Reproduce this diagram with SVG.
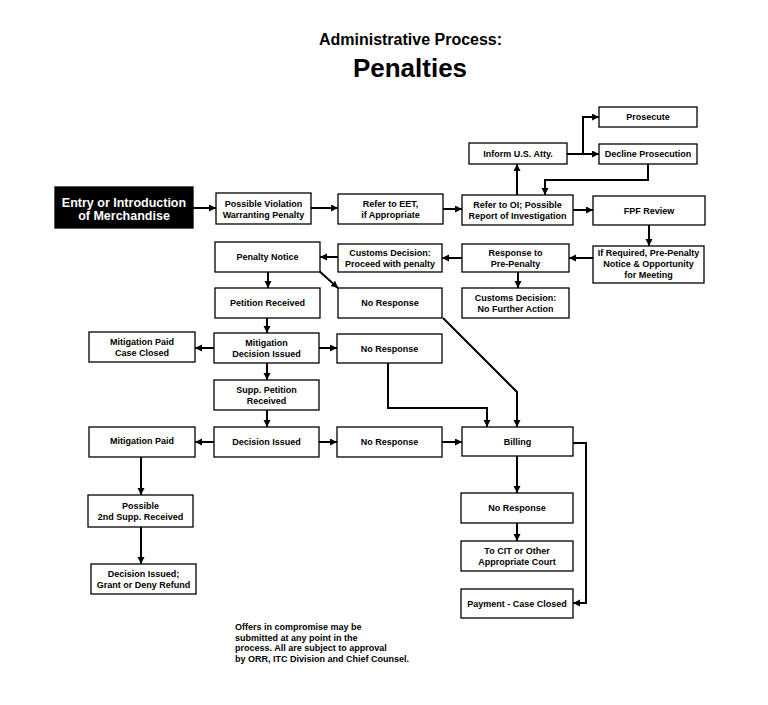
<svg xmlns="http://www.w3.org/2000/svg" width="768" height="705" viewBox="0 0 768 705">
<defs>
<style>
.box{fill:#fff;stroke:#000;stroke-width:1.3}
.dark{fill:#000;stroke:#000;stroke-width:1.3}
text{font-family:"Liberation Sans",Arial,Helvetica,sans-serif;font-weight:bold;fill:#000}
.t{font-size:9px;text-anchor:middle}
.w{font-size:12.5px;text-anchor:middle;fill:#fff}
.note{font-size:9px}
.c{fill:none;stroke:#000;stroke-width:2;marker-end:url(#ah)}
</style>
<marker id="ah" markerWidth="8" markerHeight="8" refX="7" refY="3.5" orient="auto" markerUnits="userSpaceOnUse"><path d="M0,0 L7,3.5 L0,7 z" fill="#000"/></marker>
</defs>
<rect width="768" height="705" fill="#fff"/>
<g id="title">
<text x="410.5" y="45" style="font-size:16px;text-anchor:middle">Administrative Process:</text>
<text x="410" y="77" style="font-size:26px;text-anchor:middle">Penalties</text>
</g>
<g id="connectors">
<path class="c" d="M193,208 H216"/>
<path class="c" d="M311,208 H338"/>
<path class="c" d="M443,209 H462"/>
<path class="c" d="M573,210 H593"/>
<path class="c" d="M517,195 V164"/>
<path class="c" d="M567,154 H599"/>
<path class="c" d="M583,154 V117 H599"/>
<path class="c" d="M648,164 V180 H545 V195"/>
<path class="c" d="M649,225 V246"/>
<path class="c" d="M593,258 H569"/>
<path class="c" d="M462,258 H442"/>
<path class="c" d="M338,257 H320"/>
<path class="c" d="M518,272 V288"/>
<path class="c" d="M268,272 V288"/>
<path class="c" d="M318,270 L338,288"/>
<path class="c" d="M443,318 L517,392 V427"/>
<path class="c" d="M267,318 V333"/>
<path class="c" d="M214,348 H195"/>
<path class="c" d="M319,348 H337"/>
<path class="c" d="M267,363 V380"/>
<path class="c" d="M388,363 V408 H487 V427"/>
<path class="c" d="M267,410 V427"/>
<path class="c" d="M214,442 H195"/>
<path class="c" d="M319,442 H337"/>
<path class="c" d="M442,442 H462"/>
<path class="c" d="M573,443 H586 V603 H573"/>
<path class="c" d="M517,456 V493"/>
<path class="c" d="M517,523 V541"/>
<path class="c" d="M141,457 V495"/>
<path class="c" d="M141,527 V564"/>
</g>
<g id="entry"><rect class="dark" x="55" y="187" width="138" height="41"/><text class="w" x="124" y="207">Entry or Introduction</text><text class="w" x="124" y="219.5">of Merchandise</text></g>
<g id="possible"><rect class="box" x="216" y="193" width="95" height="31"/><text class="t" x="263.5" y="206.5">Possible Violation</text><text class="t" x="263.5" y="217.5">Warranting Penalty</text></g>
<g id="eet"><rect class="box" x="338" y="194" width="105" height="30"/><text class="t" x="390.5" y="206.5">Refer to EET,</text><text class="t" x="390.5" y="217.5">if Appropriate</text></g>
<g id="oi"><rect class="box" x="462" y="195" width="111" height="30"/><text class="t" x="517.5" y="207.5">Refer to OI; Possible</text><text class="t" x="517.5" y="218.5">Report of Investigation</text></g>
<g id="fpf"><rect class="box" x="593" y="196" width="112" height="29"/><text class="t" x="649" y="213.5">FPF Review</text></g>
<g id="inform"><rect class="box" x="469" y="143" width="98" height="21"/><text class="t" x="518" y="156.5">Inform U.S. Atty.</text></g>
<g id="prosecute"><rect class="box" x="599" y="107" width="98" height="20"/><text class="t" x="648" y="120">Prosecute</text></g>
<g id="decline"><rect class="box" x="599" y="144" width="98" height="20"/><text class="t" x="648" y="157">Decline Prosecution</text></g>
<g id="ifreq"><rect class="box" x="593" y="246" width="111" height="37"/><text class="t" x="648.5" y="255.5">If Required, Pre-Penalty</text><text class="t" x="648.5" y="266.5">Notice &amp; Opportunity</text><text class="t" x="648.5" y="277.5">for Meeting</text></g>
<g id="response"><rect class="box" x="462" y="244" width="107" height="28"/><text class="t" x="515.5" y="255.5">Response to</text><text class="t" x="515.5" y="266.5">Pre-Penalty</text></g>
<g id="proceed"><rect class="box" x="338" y="244" width="104" height="28"/><text class="t" x="390" y="255.5">Customs Decision:</text><text class="t" x="390" y="266.5">Proceed with penalty</text></g>
<g id="penalty"><rect class="box" x="215" y="242" width="105" height="30"/><text class="t" x="267.5" y="260">Penalty Notice</text></g>
<g id="nofurther"><rect class="box" x="462" y="288" width="107" height="30"/><text class="t" x="515.5" y="300.5">Customs Decision:</text><text class="t" x="515.5" y="311.5">No Further Action</text></g>
<g id="petition"><rect class="box" x="215" y="288" width="105" height="30"/><text class="t" x="267.5" y="306">Petition Received</text></g>
<g id="noresp1"><rect class="box" x="338" y="288" width="104" height="30"/><text class="t" x="390" y="306">No Response</text></g>
<g id="mitdec"><rect class="box" x="214" y="333" width="105" height="30"/><text class="t" x="266.5" y="345.5">Mitigation</text><text class="t" x="266.5" y="356.5">Decision Issued</text></g>
<g id="mitclosed"><rect class="box" x="89" y="332" width="106" height="30"/><text class="t" x="142" y="344.5">Mitigation Paid</text><text class="t" x="142" y="355.5">Case Closed</text></g>
<g id="noresp2"><rect class="box" x="337" y="334" width="105" height="29"/><text class="t" x="389.5" y="351.5">No Response</text></g>
<g id="supp"><rect class="box" x="214" y="380" width="105" height="30"/><text class="t" x="266.5" y="392.5">Supp. Petition</text><text class="t" x="266.5" y="403.5">Received</text></g>
<g id="decision"><rect class="box" x="214" y="427" width="105" height="30"/><text class="t" x="266.5" y="445">Decision Issued</text></g>
<g id="mitpaid"><rect class="box" x="89" y="427" width="106" height="30"/><text class="t" x="142" y="444">Mitigation Paid</text></g>
<g id="noresp3"><rect class="box" x="337" y="427" width="105" height="30"/><text class="t" x="389.5" y="445">No Response</text></g>
<g id="billing"><rect class="box" x="462" y="427" width="111" height="29"/><text class="t" x="517.5" y="445">Billing</text></g>
<g id="noresp4"><rect class="box" x="461" y="493" width="112" height="30"/><text class="t" x="517" y="511">No Response</text></g>
<g id="cit"><rect class="box" x="461" y="541" width="112" height="30"/><text class="t" x="517" y="553.5">To CIT or Other</text><text class="t" x="517" y="564.5">Appropriate Court</text></g>
<g id="payment"><rect class="box" x="461" y="589" width="112" height="29"/><text class="t" x="517" y="607">Payment - Case Closed</text></g>
<g id="second"><rect class="box" x="88" y="495" width="105" height="32"/><text class="t" x="140.5" y="508.5">Possible</text><text class="t" x="140.5" y="519.5">2nd Supp. Received</text></g>
<g id="grant"><rect class="box" x="91" y="564" width="105" height="30"/><text class="t" x="143.5" y="576.5">Decision Issued;</text><text class="t" x="143.5" y="587.5">Grant or Deny Refund</text></g>
<g id="note">
<text class="note" x="235" y="630">Offers in compromise may be</text>
<text class="note" x="235" y="640.5">submitted at any point in the</text>
<text class="note" x="235" y="651">process. All are subject to approval</text>
<text class="note" x="235" y="661.5">by ORR, ITC Division and Chief Counsel.</text>
</g>
</svg>
